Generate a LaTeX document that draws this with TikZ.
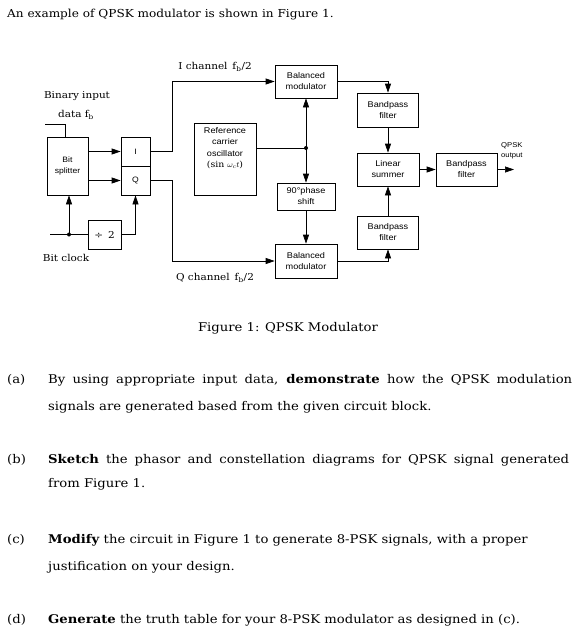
\documentclass[tikz,border=0pt]{standalone}
\usepackage{fontspec}
\setmainfont{DejaVu Serif}[FakeStretch=1.1]
\setsansfont{Liberation Sans}[FakeStretch=1.1]
\usetikzlibrary{arrows.meta}
\begin{document}
\begin{tikzpicture}[x=1pt,y=-1pt,
  box/.style={draw, line width=0.7pt, inner sep=0pt, align=center, font=\sffamily\fontsize{8.3}{11}\selectfont},
  wire/.style={line width=0.7pt},
  arr/.style={wire, -{Triangle[length=9pt,width=6pt]}},
  dotc/.style={circle, fill, inner sep=0pt, minimum size=4pt},
  lbl/.style={inner sep=0pt, font=\fontsize{9.5}{11}\selectfont},
  small/.style={inner sep=0pt, align=center, font=\sffamily\fontsize{8.3}{11.5}\selectfont},
  tiny/.style={inner sep=0pt, align=left, anchor=west, font=\sffamily\fontsize{7}{10}\selectfont},
  txt/.style={anchor=base west, inner sep=0pt, font=\fontsize{12}{14}\selectfont},
]
\useasboundingbox (0,0) rectangle (575,630);

% ---- boxes ----
\node[box, minimum width=41pt, minimum height=58pt, font=\sffamily\fontsize{7.8}{11}\selectfont] (split) at (67.5,166) {Bit\\splitter};
\node[box, minimum width=29pt, minimum height=29pt, font=\sffamily\fontsize{7.8}{11}\selectfont] (Ibox) at (135.5,151.5) {I};
\node[box, minimum width=29pt, minimum height=29pt, font=\sffamily\fontsize{7.8}{11}\selectfont] (Qbox) at (135.5,180.5) {Q};
\node[box, minimum width=33pt, minimum height=29pt, font=\fontsize{9.5}{11}\selectfont] (div) at (104.5,234.5) {÷\, 2};
\node[box, minimum width=62pt, minimum height=72pt] (osc) at (225,159) {};
\node[small] (osct) at (225,148) {Reference\\carrier\\oscillator\\{\fontsize{8.5}{9}\selectfont\rmfamily (sin $\omega_c t$)}};
\node[box, minimum width=62pt, minimum height=33pt] (modT) at (306,81.5) {Balanced\\modulator};
\node[box, minimum width=58pt, minimum height=27pt] (phase) at (306,196.5) {90°phase\\shift};
\node[box, minimum width=62pt, minimum height=34pt] (modB) at (306,261) {Balanced\\modulator};
\node[box, minimum width=61pt, minimum height=34pt] (bpfT) at (388,110) {Bandpass\\filter};
\node[box, minimum width=62pt, minimum height=33pt] (sum) at (388,169.5) {Linear\\summer};
\node[box, minimum width=61pt, minimum height=33pt] (bpfB) at (388,232.5) {Bandpass\\filter};
\node[box, minimum width=61pt, minimum height=33pt] (bpfO) at (466.5,169.5) {Bandpass\\filter};

% ---- labels ----
\node[lbl] (bin) at (77,96) {Binary input};
\node[lbl] (data) at (76,115) {data f\textsubscript{b}};
\node[lbl] (bclk) at (66,258) {Bit clock};
\node[lbl] (ich) at (215,67) {I channel\, f\textsubscript{b}/2};
\node[lbl] (qch) at (215,278) {Q channel\, f\textsubscript{b}/2};
\node[tiny] (qout) at (501,151) {QPSK\\output};

% ---- coordinates ----
\coordinate (inp) at (45,124);
\coordinate (inx) at (65,0);
\coordinate (clk) at (50,234.5);
\coordinate (dot1) at (69,234.5);
\coordinate (chx) at (172,0);
\coordinate (dot2) at (306,148);
\coordinate (out) at (514,169.5);

% ---- connectors ----
\draw[wire] (inp) -| (split.north -| inx);
\draw[arr] (split.east |- Ibox) -- (Ibox.west);
\draw[arr] (split.east |- Qbox) -- (Qbox.west);
\draw[wire] (clk) -- (div.west);
\node[dotc] (d1) at (dot1) {};
\draw[arr] (dot1) -- (dot1 |- split.south);
\draw[arr] (div.east) -| (Qbox.south);
\draw[arr] (Ibox.east) -- (Ibox.east -| chx) |- (modT.west);
\draw[arr] (Qbox.east) -- (Qbox.east -| chx) |- (modB.west);
\draw[wire] (osc.east |- dot2) -- (dot2);
\node[dotc] (d2) at (dot2) {};
\draw[arr] (dot2) -- (modT.south);
\draw[arr] (dot2) -- (phase.north);
\draw[arr] (phase.south) -- (modB.north);
\draw[arr] (modT.east) -| (bpfT.north);
\draw[arr] (bpfT.south) -- (sum.north);
\draw[arr] (modB.east) -| (bpfB.south);
\draw[arr] (bpfB.north) -- (sum.south);
\draw[arr] (sum.east) -- (bpfO.west);
\draw[arr] (bpfO.east) -- (out);

% ---- text ----
\node[txt, font=\fontsize{11}{13}\selectfont] (head) at (7,17) {An example of QPSK modulator is shown in Figure 1.};
\node[txt, anchor=base] (cap) at (288,331) {Figure 1: QPSK Modulator};
\node[txt] (la) at (7,383) {(a)};
\node[txt] (a1) at (48,383) {\makebox[524pt][s]{By using appropriate input data, \textbf{demonstrate} how the QPSK modulation}};
\node[txt] (a2) at (48,410) {signals are generated based from the given circuit block.};
\node[txt] (lb) at (7,463) {(b)};
\node[txt] (b1) at (48,463) {\makebox[521pt][s]{\textbf{Sketch} the phasor and constellation diagrams for QPSK signal generated}};
\node[txt] (b2) at (48,487) {from Figure 1.};
\node[txt] (lc) at (7,543) {(c)};
\node[txt] (c1) at (48,543) {\textbf{Modify} the circuit in Figure 1 to generate 8-PSK signals, with a proper};
\node[txt] (c2) at (48,570) {justification on your design.};
\node[txt] (ld) at (7,623) {(d)};
\node[txt] (d1t) at (48,623) {\textbf{Generate} the truth table for your 8-PSK modulator as designed in (c).};
\end{tikzpicture}
\end{document}
